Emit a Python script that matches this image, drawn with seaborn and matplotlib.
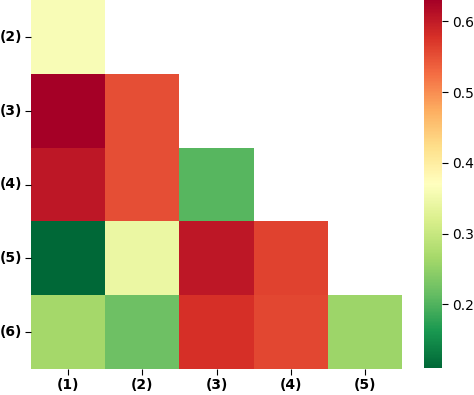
import numpy as np
import pandas as pd
import matplotlib
matplotlib.use("Agg")
import matplotlib.pyplot as plt
import seaborn as sns

rows = ["(2)", "(3)", "(4)", "(5)", "(6)"]
cols = ["(1)", "(2)", "(3)", "(4)", "(5)"]
row2 = [0.36, np.nan, np.nan, np.nan, np.nan]
row3 = [0.63, 0.552, np.nan, np.nan, np.nan]
row4 = [0.604, 0.552, 0.204, np.nan, np.nan]
row5 = [0.11, 0.342, 0.604, 0.562, np.nan]
row6 = [0.266, 0.22, 0.578, 0.557, 0.26]

df = pd.DataFrame([row2, row3, row4, row5, row6], index=rows, columns=cols)

fig = plt.figure(figsize=(4.74, 3.95), dpi=100)
ax = fig.add_axes([31/474, 26/395, 371/474, 369/395])
cax = fig.add_axes([424/474, 27/395, 18/474, 368/395])

sns.heatmap(df, ax=ax, cbar_ax=cax, cmap="RdYlGn_r", vmin=0.11, vmax=0.63,
            mask=df.isna(), cbar=True)
ax.set_xlabel("")
ax.set_ylabel("")
ax.tick_params(axis="both", labelsize=10, length=4, pad=2.5)
for t in ax.get_xticklabels():
    t.set_fontweight("bold")
    t.set_rotation(0)
for t in ax.get_yticklabels():
    t.set_fontweight("bold")
    t.set_rotation(0)
cax.set_yticks([0.2, 0.3, 0.4, 0.5, 0.6])
cax.tick_params(labelsize=10, length=4)
cax.set_frame_on(False)

fig.savefig("out.png", dpi=100)
